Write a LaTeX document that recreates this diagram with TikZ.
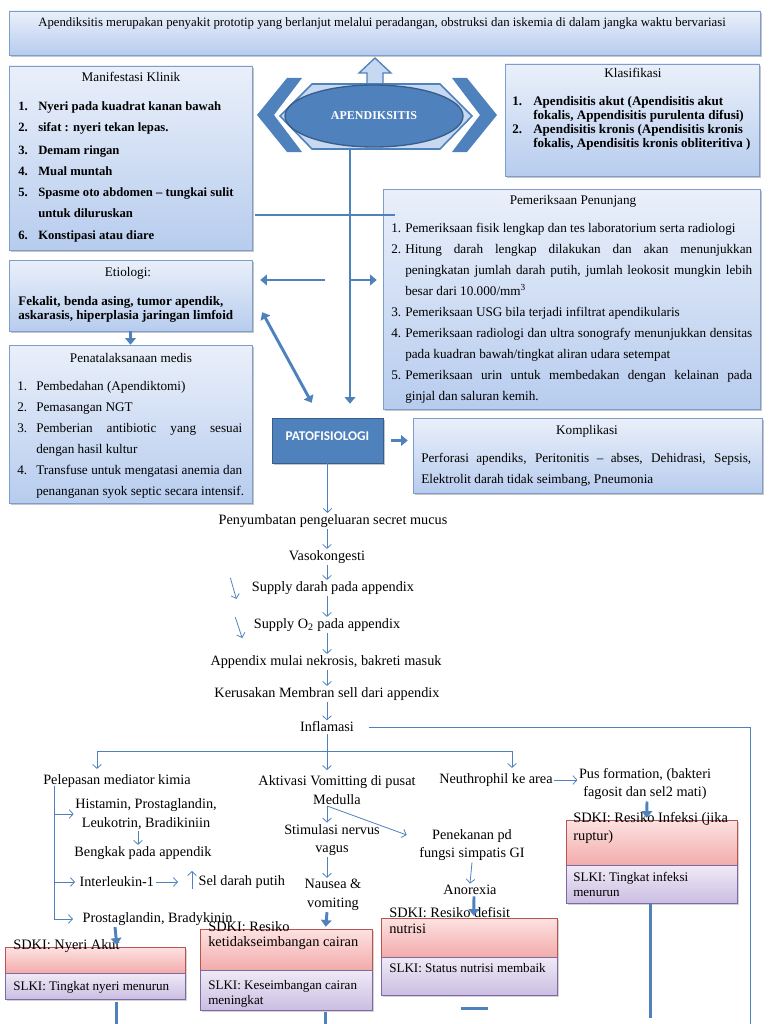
\documentclass[tikz,border=0pt]{standalone}
\usepackage{fontspec}
\setmainfont{Liberation Serif}
\newfontfamily\calibri{Carlito}
\usetikzlibrary{arrows.meta,fit,shadows,shapes.geometric}

\newdimen\unitpx \unitpx=0.75pt
\newcommand{\fillline}[2]{\makebox[#1\unitpx][s]{#2}}

\definecolor{boxtop}{HTML}{EAF0FA}
\definecolor{boxbot}{HTML}{B7CCEE}
\definecolor{boxline}{HTML}{7F9DCB}
\definecolor{darkblue}{HTML}{4F81BD}
\definecolor{deepblue}{HTML}{385D8A}
\definecolor{hexfill}{HTML}{C6D9F1}
\definecolor{pinktop}{HTML}{FDE2E2}
\definecolor{pinkbot}{HTML}{F3ABAB}
\definecolor{pinkline}{HTML}{B85450}
\definecolor{lilatop}{HTML}{EFEAF6}
\definecolor{lilabot}{HTML}{CBBEE2}
\definecolor{lilaline}{HTML}{7D68A8}

\tikzset{
  box/.style={draw=boxline, top color=boxtop, bottom color=boxbot, inner sep=0pt,
    drop shadow={shadow xshift=1.5pt, shadow yshift=-1.5pt, opacity=0.45}},
  pinkbox/.style={draw=pinkline, top color=pinktop, bottom color=pinkbot, inner sep=0pt,
    drop shadow={shadow xshift=1.5pt, shadow yshift=-1.5pt, opacity=0.35}},
  lilabox/.style={draw=lilaline, top color=lilatop, bottom color=lilabot, inner sep=0pt,
    drop shadow={shadow xshift=1.5pt, shadow yshift=-1.5pt, opacity=0.35}},
  txt/.style={anchor=base west, inner sep=0pt, yshift=-3pt, font=\fontsize{9.9}{12}\selectfont},
  ctxt/.style={txt, anchor=base},
  bld/.style={txt, font=\fontsize{9.8}{12}\selectfont\bfseries},
  flow/.style={inner sep=1pt, align=center, font=\fontsize{10.7}{14}\selectfont},
  sd/.style={txt, font=\fontsize{10.8}{13}\selectfont},
  sl/.style={txt, font=\fontsize{9.8}{12}\selectfont},
  tline/.style={draw=darkblue, line width=0.6pt},
  tarrow/.style={tline, -{Straight Barb[length=3pt,width=6.5pt]}},
  fat/.style={draw=darkblue, line width=2.2pt},
  fatarrow/.style={fat, -{Triangle[width=8pt,length=5pt]}},
}

\begin{document}
\begin{tikzpicture}[x=0.75pt, y=-0.75pt]
	\useasboundingbox (0,0) rectangle (768,1024);

	%boxes
	\node[box, fit={(9,11) (760,55)}] (intro) {};
	\node[box, fit={(9,66) (252,250)}] (manif) {};
	\node[box, fit={(505,64) (759,176)}] (klas) {};
	\node[box, fit={(383,189) (760,409)}] (pemer) {};
	\node[box, fit={(9,260) (252,331)}] (etio) {};
	\node[box, fit={(9,345) (252,503)}] (pena) {};
	\node[box, fit={(413,418) (762,493)}] (kompl) {};
	\node[fit={(272,418) (383,463)}, inner sep=0pt, fill=darkblue, draw=deepblue,
		drop shadow={shadow xshift=1.5pt, shadow yshift=-1.5pt, opacity=0.45},
		text=white, font=\calibri\bfseries\fontsize{10}{12}\selectfont] (pato) {PATOFISIOLOGI};

	%emblem
	\fill[darkblue] (302,78) -- (287,78) -- (257,115) -- (287,152) -- (302,152) -- (274,115) -- cycle;
	\fill[darkblue] (452,78) -- (467,78) -- (497,115) -- (467,152) -- (452,152) -- (480,115) -- cycle;
	\draw[fill=hexfill, draw=darkblue, line width=1pt] (367,84) -- (367,73) -- (359,73) -- (375,58) -- (391,73) -- (383,73) -- (383,84);
	\draw[fill=hexfill, draw=darkblue, line width=1.2pt] (312,84) -- (440,84) -- (472,116) -- (440,149) -- (312,149) -- (280,116) -- cycle;
	\node[ellipse, fill=darkblue, draw=deepblue, line width=1pt, minimum width=178\unitpx, minimum height=62\unitpx,
		inner sep=0pt, text=white, font=\fontsize{9}{10}\selectfont\bfseries] (apx) at (374,116) {APENDIKSITIS};

	%spine
	\coordinate (spine) at (350,150);
	\coordinate (hl) at (395,215);
	\coordinate (la) at (325,280);
	\draw[fatarrow, shorten >=14\unitpx] (spine) -- (spine |- pato.north);
	\draw[fat] ([xshift=3\unitpx]manif.east |- hl) -- (hl);
	\draw[fatarrow] (la) -- ([xshift=8\unitpx]etio.east |- la);
	\draw[fatarrow] (spine |- la) -- ([xshift=-6\unitpx]pemer.west |- la);
	\draw[fat, {Triangle[width=8pt,length=5pt]}-{Triangle[width=8pt,length=5pt]}]
		([shift={(10,-19)}]etio.south east) -- ([shift={(40,-15)}]pato.north west);
	\draw[fatarrow] (etio.south) -- (pena.north);
	\draw[fatarrow] ([xshift=8\unitpx]pato.east) -- ([xshift=-5\unitpx]kompl.west |- pato.east);

	%box texts
	\node[ctxt, font=\fontsize{9.6}{12}\selectfont] (introtxt) at (382,23) {Apendiksitis merupakan penyakit prototip yang berlanjut melalui peradangan, obstruksi dan iskemia di dalam jangka waktu bervariasi};

	\node[ctxt] (mtitle) at (131,78) {Manifestasi Klinik};
	\foreach \y/\n/\t [count=\i] in {106/1./{Nyeri pada kuadrat kanan bawah}, 128/2./{sifat : nyeri tekan lepas.},
		150/3./{Demam ringan}, 171/4./{Mual muntah}, 192/5./{Spasme oto abdomen -- tungkai sulit},
		213//{untuk diluruskan}, 235/6./{Konstipasi atau diare}}
		\node[bld, font=\fontsize{9.5}{12}\selectfont\bfseries] (mk\i) at (18,\y) {\makebox[20\unitpx][l]{\n}\t};

	\node[ctxt] (ktitle) at (633,74) {Klasifikasi};
	\foreach \y/\n/\t [count=\i] in {101/1./{Apendisitis akut (Apendisitis akut}, 115//{fokalis, Appendisitis purulenta difusi)},
		129/2./{Apendisitis kronis (Apendisitis kronis}, 143//{fokalis, Apendisitis kronis obliteritiva )}}
		\node[bld] (kl\i) at (512,\y) {\makebox[21\unitpx][l]{\n}\t};

	\node[ctxt] (ptitle) at (573,200) {Pemeriksaan Penunjang};
	\foreach \y/\n/\t [count=\i] in {228/1./{Pemeriksaan fisik lengkap dan tes laboratorium serta radiologi},
		249/2./{\fillline{347}{Hitung darah lengkap dilakukan dan akan menunjukkan}},
		270//{\fillline{347}{peningkatan jumlah darah putih, jumlah leokosit mungkin lebih}},
		291//{besar dari 10.000/mm\textsuperscript{3}},
		312/3./{Pemeriksaan USG bila terjadi infiltrat apendikularis},
		333/4./{\fillline{347}{Pemeriksaan radiologi dan ultra sonografy menunjukkan densitas}},
		354//{pada kuadran bawah/tingkat aliran udara setempat},
		375/5./{\fillline{347}{Pemeriksaan urin untuk membedakan dengan kelainan pada}},
		396//{ginjal dan saluran kemih.}}
		\node[txt] (pp\i) at (391,\y) {\makebox[14\unitpx][l]{\n}\t};

	\node[ctxt] (etitle) at (128,272) {Etiologi:};
	\node[bld] (et1) at (18,301) {Fekalit, benda asing, tumor apendik,};
	\node[bld] (et2) at (18,315) {askarasis, hiperplasia jaringan limfoid};

	\node[ctxt] (ntitle) at (131,358) {Penatalaksanaan medis};
	\foreach \y/\n/\t [count=\i] in {386/1./{Pembedahan (Apendiktomi)}, 407/2./{Pemasangan NGT},
		428/3./{\fillline{206}{Pemberian antibiotic yang sesuai}}, 449//{dengan hasil kultur},
		470/4./{\fillline{206}{Transfuse untuk mengatasi anemia dan}},
		491//{penanganan syok septic secara intensif.}}
		\node[txt] (pm\i) at (17,\y) {\makebox[19\unitpx][l]{\n}\t};

	\node[ctxt] (otitle) at (587,430) {Komplikasi};
	\node[txt] (ko1) at (421,458) {\fillline{330}{Perforasi apendiks, Peritonitis -- abses, Dehidrasi, Sepsis,}};
	\node[txt] (ko2) at (421,479) {Elektrolit darah tidak seimbang, Pneumonia};

	%flow
	\node[flow] (pen) at (333,521) {Penyumbatan pengeluaran secret mucus};
	\node[flow] (vaso) at (327,557) {Vasokongesti};
	\node[flow] (supd) at (333,588) {Supply darah pada appendix};
	\node[flow] (supo) at (327,625) {Supply O\textsubscript{2} pada appendix};
	\node[flow] (nekr) at (326,662) {Appendix mulai nekrosis, bakreti masuk};
	\node[flow] (memb) at (327,694) {Kerusakan Membran sell dari appendix};
	\node[flow] (inf) at (327,727) {Inflamasi};

	\draw[tarrow] (pato.south) -- (pato.south |- pen.north);
	\foreach \a/\b in {pen/vaso, vaso/supd, supd/supo, supo/nekr, nekr/memb, memb/inf}
		\draw[tarrow] (\a.south -| inf) -- (\b.north -| inf);
	\draw[tarrow] ([shift={(-20,-10)}]supd.west) -- ([shift={(-14,11)}]supd.west);
	\draw[tarrow] ([shift={(-17,-8)}]supo.west) -- ([shift={(-10,13)}]supo.west);

	\coordinate (rb) at (750,1024);
	\draw[tline] ([xshift=13\unitpx]inf.east) -| (rb);

	%branches
	\node[flow] (pel) at (117,781) {Pelepasan mediator kimia};
	\node[flow] (akt) at (337,790) {Aktivasi Vomitting di pusat\\Medulla};
	\node[flow] (neu) at (496,780) {Neuthrophil ke area};
	\node[flow] (pus) at (645,784) {Pus formation, (bakteri\\fagosit dan sel2 mati)};
	\node[flow] (hist) at (146,814) {Histamin, Prostaglandin,\\Leukotrin, Bradikiniin};
	\node[flow] (beng) at (143,853) {Bengkak pada appendik};
	\node[flow, anchor=west] (il) at (78,882) {Interleukin-1};
	\node[flow, anchor=west] (sdp) at (197,882) {Sel darah putih};
	\node[flow, anchor=west] (pgb) at (81,919) {Prostaglandin, Bradykinin};
	\node[flow] (stim) at (332,840) {Stimulasi nervus\\vagus};
	\node[flow] (naus) at (333,895) {Nausea \&\\vomiting};
	\node[flow] (pnk) at (472,845) {Penekanan pd\\fungsi simpatis GI};
	\node[flow] (anor) at (470,890) {Anorexia};

	\coordinate (fork) at (327,751);
	\coordinate (vx) at (54,786);
	\draw[tline] (inf.south) -- (fork);
	\draw[tarrow, shorten >=3pt] (fork) -| ([xshift=-20\unitpx]pel.north);
	\draw[tarrow, shorten >=3pt] (fork) -- (fork |- akt.north);
	\draw[tarrow, shorten >=3pt] (fork) -| ([xshift=16\unitpx]neu.north);

	\draw[tarrow] (vx) |- ([xshift=-8\unitpx]pgb.west);
	\draw[tarrow] (vx |- hist.west) -- (hist.west);
	\draw[tarrow] (vx |- il.west) -- ([xshift=-3\unitpx]il.west);
	\draw[tarrow] ([xshift=-8\unitpx]hist.south) -- ([xshift=-5\unitpx]beng.north);
	\draw[tarrow] (il.east) -- ([xshift=-19\unitpx]sdp.west);
	\draw[tarrow] ([shift={(-5,7)}]sdp.west) -- ([shift={(-5,-11)}]sdp.west);

	\draw[tarrow] ([xshift=-10\unitpx]akt.south) -- ([xshift=-5\unitpx]stim.north);
	\draw[tarrow] ([xshift=-10\unitpx]akt.south) -- ([shift={(-11,-10)}]pnk.west);
	\draw[tarrow] ([xshift=-5\unitpx]stim.south) -- ([xshift=-6\unitpx]naus.north);
	\draw[tarrow] (pnk.south) -- (anor.north);
	\draw[tarrow] (neu.east) -- (neu.east -| pus.west);

	%sdki and slki
	\node[pinkbox, fit={(5,947) (185,973)}] (sdk1) {};
	\node[lilabox, fit={(5,973) (185,999)}] (sdk1l) {};
	\node[pinkbox, fit={(200,929) (372,970)}] (sdk2) {};
	\node[lilabox, fit={(200,970) (372,1010)}] (sdk2l) {};
	\node[pinkbox, fit={(381,918) (557,957)}] (sdk3) {};
	\node[lilabox, fit={(381,957) (557,995)}] (sdk3l) {};
	\node[pinkbox, fit={(566,820) (737,865)}] (sdk4) {};
	\node[lilabox, fit={(566,865) (737,903)}] (sdk4l) {};

	\node[sd] (sd1) at (13,945) {SDKI: Nyeri Akut};
	\node[sl] (sl1) at (13,986) {SLKI: Tingkat nyeri menurun};
	\node[sd] (sd2a) at (208,927) {SDKI: Resiko};
	\node[sd] (sd2b) at (208,942) {ketidakseimbangan cairan};
	\node[sl] (sl2a) at (208,985) {SLKI: Keseimbangan cairan};
	\node[sl] (sl2b) at (208,1000) {meningkat};
	\node[sd] (sd3a) at (389,913) {SDKI: Resiko defisit};
	\node[sd] (sd3b) at (389,929) {nutrisi};
	\node[sl] (sl3) at (389,968) {SLKI: Status nutrisi membaik};
	\node[sd] (sd4a) at (573,818) {SDKI: Resiko Infeksi (jika};
	\node[sd] (sd4b) at (573,836) {ruptur)};
	\node[sl] (sl4a) at (573,877) {SLKI: Tingkat infeksi};
	\node[sl] (sl4b) at (573,892) {menurun};

	\draw[fatarrow] ([xshift=34\unitpx]pgb.south west) -- ([xshift=112\unitpx,yshift=2\unitpx]sdk1.north west);
	\draw[fatarrow] ([xshift=-6\unitpx]naus.south) -- ([xshift=126\unitpx,yshift=2\unitpx]sdk2.north west);
	\draw[fatarrow] ([xshift=4\unitpx]anor.south) -- ([xshift=93\unitpx,yshift=2\unitpx]sdk3.north west);
	\draw[fatarrow] ([xshift=2\unitpx]pus.south) -- ([xshift=81\unitpx,yshift=2\unitpx]sdk4.north west);

	\draw[fat] ([xshift=112\unitpx]sdk1l.south west) ++(0,3) -- ++(0,22);
	\draw[fat] ([xshift=126\unitpx]sdk2l.south west) ++(0,2) -- ++(0,12);
	\draw[fat] ([xshift=80\unitpx]sdk3l.south west) ++(0,13) -- ++(27,0);
	\draw[fat] ([xshift=85\unitpx]sdk4l.south west) -- ++(0,115);
\end{tikzpicture}
\end{document}
